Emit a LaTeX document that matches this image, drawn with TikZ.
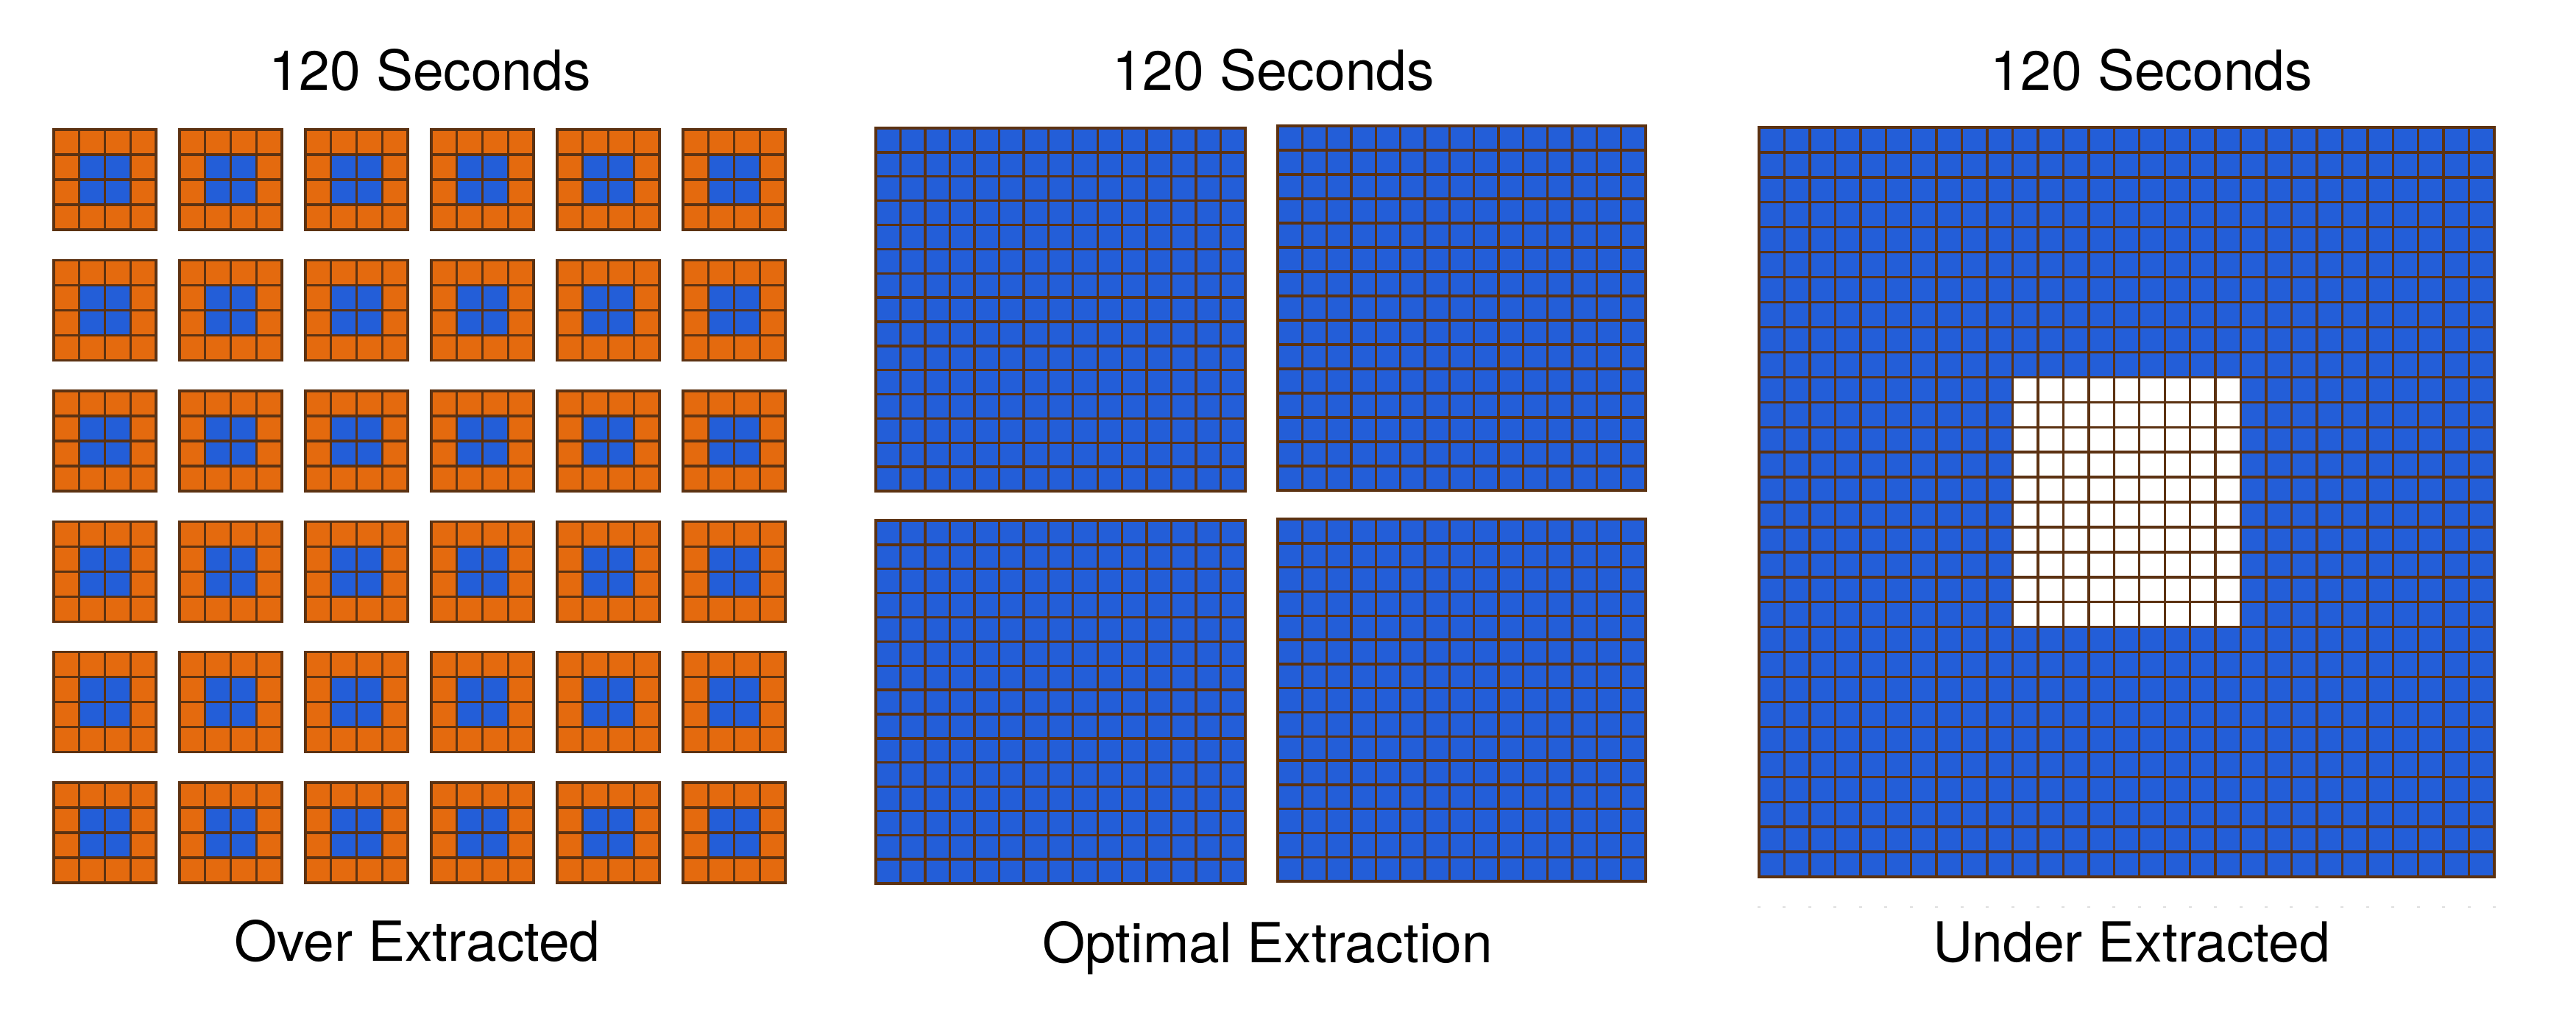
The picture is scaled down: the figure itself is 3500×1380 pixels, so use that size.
\documentclass[tikz,border=0pt]{standalone}
\usepackage{fontspec}
\setmainfont{TeX Gyre Heros}
\definecolor{cblue}{RGB}{35,94,216}
\definecolor{corange}{RGB}{228,106,14}
\definecolor{cbrown}{RGB}{92,50,18}
\tikzset{
  gridline/.style={draw=cbrown,line width=3.4pt},
  lbl/.style={font=\fontsize{75}{90}\selectfont,anchor=base,inner sep=0pt},
  faintdot/.style={fill=black!13}
}
% #1 x0, #2 y0, #3 x1, #4 y1, #5 columns, #6 rows
\newcommand\cellgrid[6]{%
  \pgfmathtruncatemacro\gncm{#5-1}%
  \pgfmathtruncatemacro\gnrm{#6-1}%
  \pgfmathsetmacro\gcw{(#3-#1)/#5}%
  \pgfmathsetmacro\gch{(#4-#2)/#6}%
  \foreach \gi in {1,...,\gncm}{\draw[gridline] ({#1+\gcw*\gi},#2) -- ({#1+\gcw*\gi},#4);}%
  \foreach \gj in {1,...,\gnrm}{\draw[gridline] (#1,{#2+\gch*\gj}) -- (#3,{#2+\gch*\gj});}%
  \draw[gridline] (#1,#2) rectangle (#3,#4);%
}
\begin{document}
\begin{tikzpicture}[x=1pt,y=-1pt]
\useasboundingbox (0,0) rectangle (3500,1380);
\fill[white] (0,0) rectangle (3500,1380);

% ---------- Over extracted: 6 x 6 small grids ----------
\foreach \gc in {0,...,5}{
  \foreach \gr in {0,...,5}{
    \pgfmathsetmacro\gx{73+171*\gc}
    \pgfmathsetmacro\gy{176+177.4*\gr}
    \pgfmathsetmacro\gxx{\gx+139}
    \pgfmathsetmacro\gyy{\gy+136}
    \fill[corange] (\gx,\gy) rectangle (\gxx,\gyy);
    \fill[cblue] ({\gx+139/4},{\gy+136/4}) rectangle ({\gx+139/4*3},{\gy+136/4*3});
    \cellgrid{\gx}{\gy}{\gxx}{\gyy}{4}{4}
  }
}

% ---------- Optimal extraction: 4 large grids ----------
\fill[cblue] (1190,174) rectangle (1692,667);
\cellgrid{1190}{174}{1692}{667}{15}{15}
\fill[cblue] (1736,171) rectangle (2236,666);
\cellgrid{1736}{171}{2236}{666}{15}{15}
\fill[cblue] (1190,707) rectangle (1692,1200);
\cellgrid{1190}{707}{1692}{1200}{15}{15}
\fill[cblue] (1736,705) rectangle (2236,1197);
\cellgrid{1736}{705}{2236}{1197}{15}{15}

% ---------- Under extracted: one grid with unextracted core ----------
\fill[cblue] (2390,173) rectangle (3389,1191);
\fill[white] ({2390+999/29*10},{173+1018/30*10}) rectangle ({2390+999/29*19},{173+1018/30*20});
\cellgrid{2390}{173}{3389}{1191}{29}{30}
\foreach \gi in {0,...,29}{
  \fill[faintdot] ({2390+999/29*\gi-2},1231) rectangle ++(4,2);
}

% ---------- Labels ----------
\node[lbl] (t1) at (584,123) {120 Seconds};
\node[lbl] (t2) at (1730,123) {120 Seconds};
\node[lbl] (t3) at (2923,123) {120 Seconds};
\node[lbl] (b1) at (567,1305) {Over Extracted};
\node[lbl] (b2) at (1722,1307) {Optimal Extraction};
\node[lbl] (b3) at (2896,1306) {Under Extracted};
\end{tikzpicture}
\end{document}
